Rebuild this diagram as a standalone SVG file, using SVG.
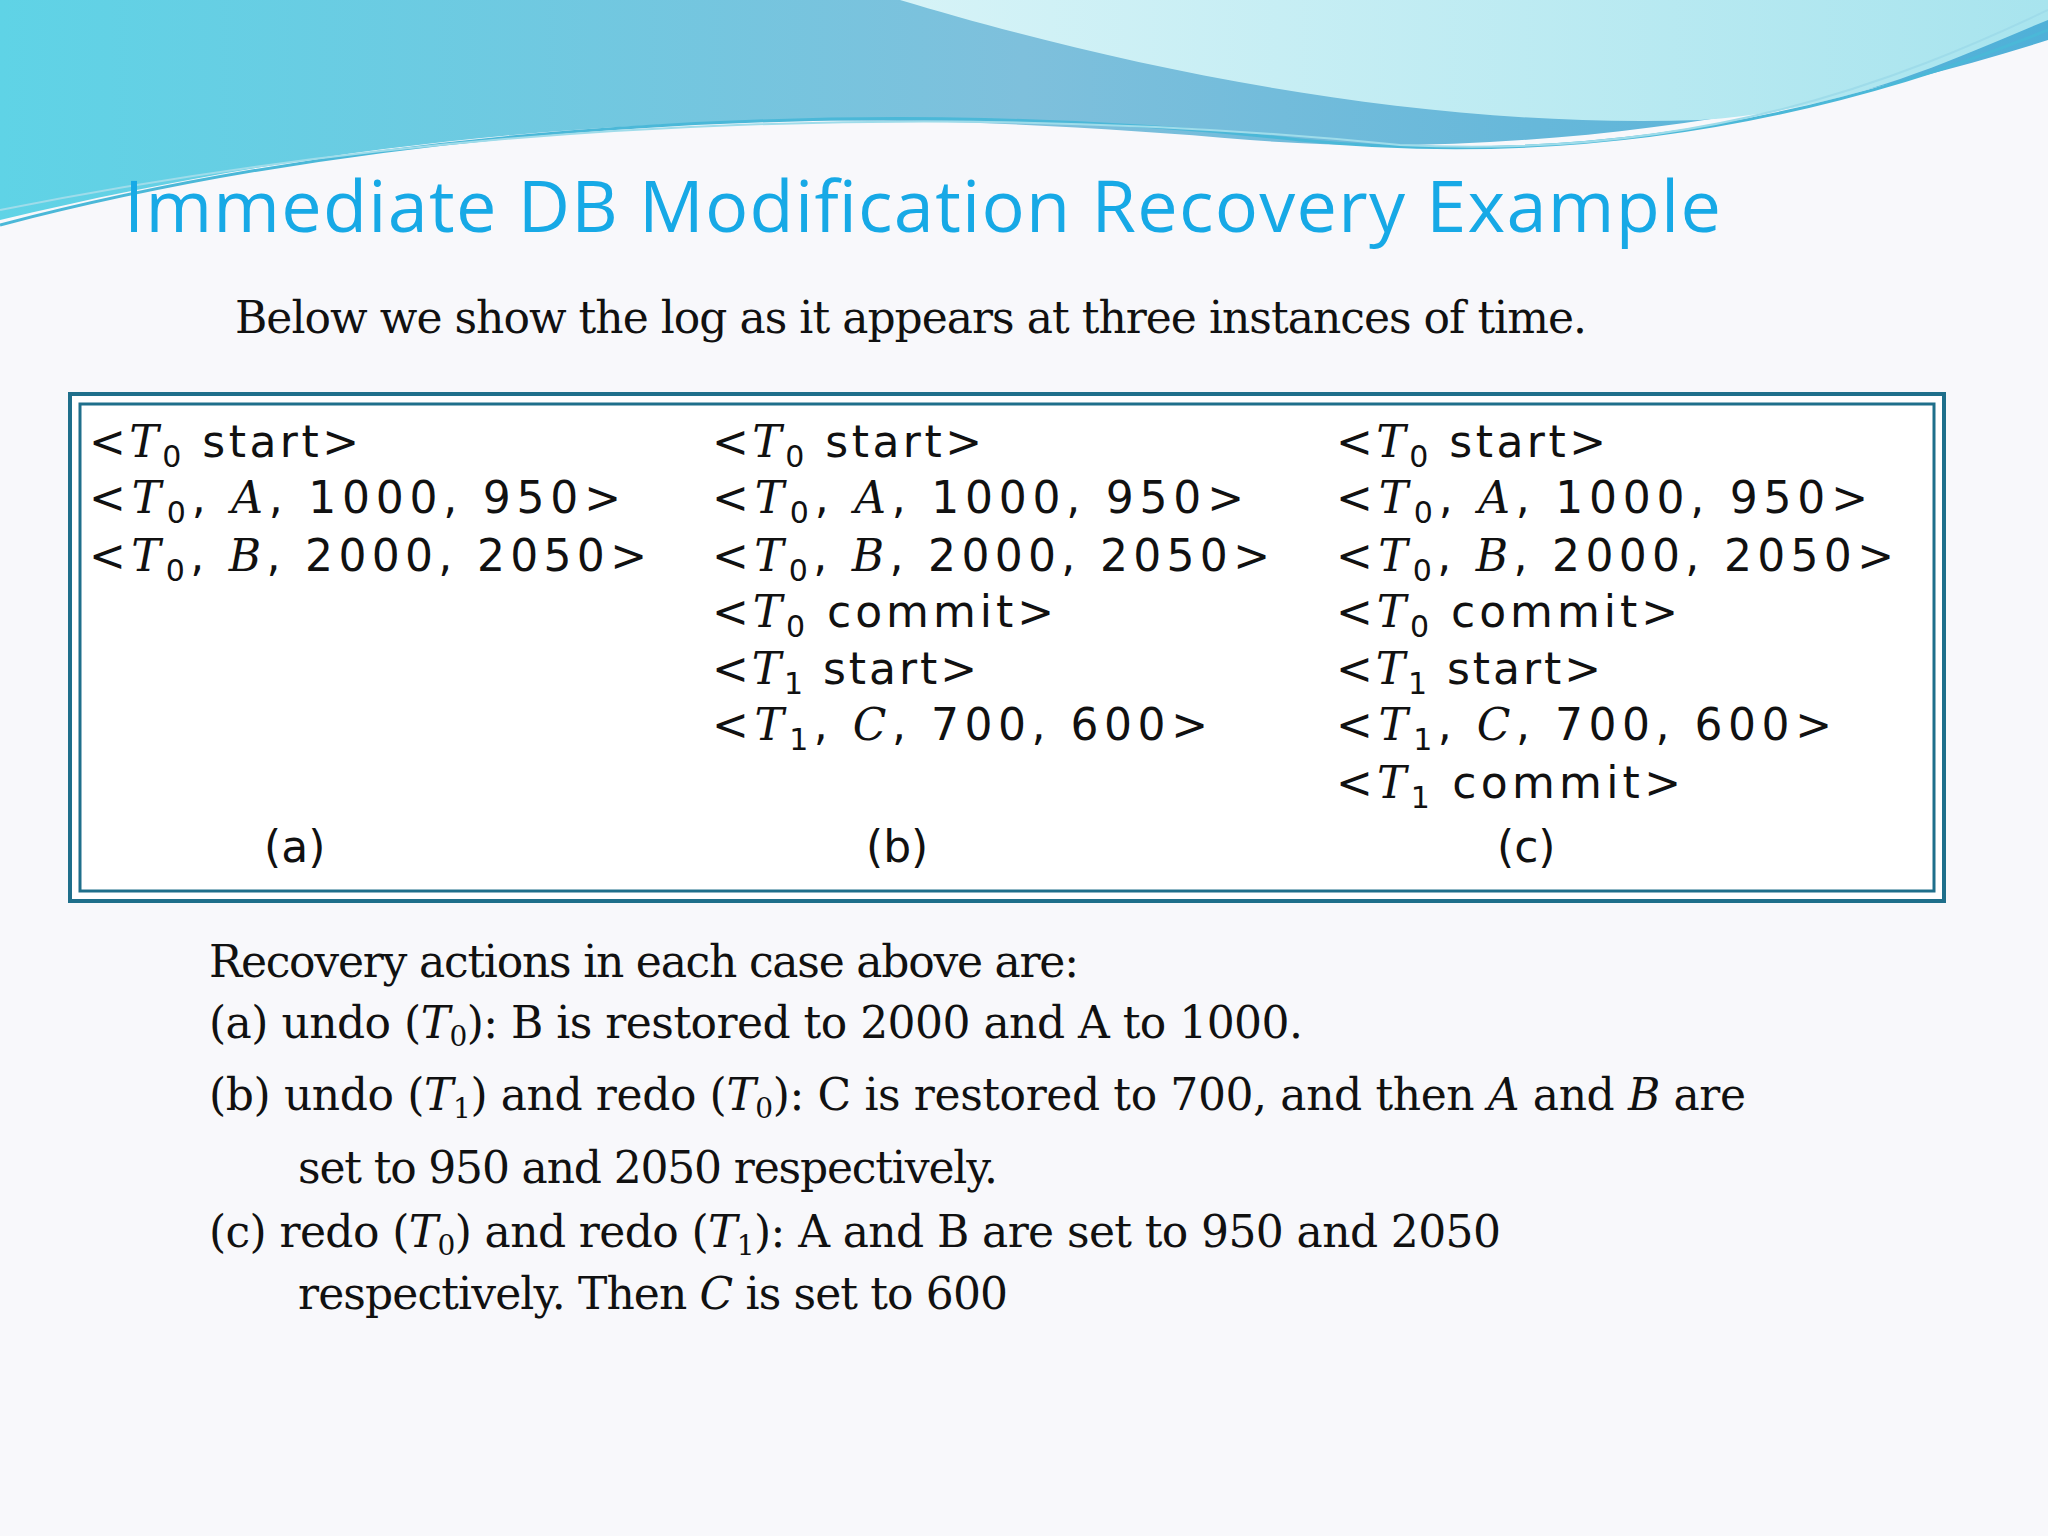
<svg xmlns="http://www.w3.org/2000/svg" width="2048" height="1536" viewBox="0 0 2048 1536">
<defs>
<linearGradient id="sky" x1="0" y1="0" x2="1" y2="0">
<stop offset="0" stop-color="#5fd3e6"/><stop offset="0.5" stop-color="#7ec0dc"/><stop offset="1" stop-color="#4fb0d8"/>
</linearGradient>
<linearGradient id="sky2" x1="0" y1="0" x2="1" y2="0">
<stop offset="0" stop-color="#d6f3f7"/><stop offset="1" stop-color="#a8e4ee"/>
</linearGradient>
</defs>
<style>
.log{font-family:"DejaVu Sans","Liberation Sans",sans-serif;font-size:44px;fill:#111}
.t{font-family:"DejaVu Serif","Liberation Serif",serif;font-style:italic}
.body{font-family:"DejaVu Serif","Liberation Serif",serif;font-size:44px;fill:#111}
</style>
<rect width="2048" height="1536" fill="#f8f8fb"/>
<g id="background-waves">
<path d="M0,0 H2048 V40 C1800,120 1500,160 1250,140 C900,110 500,100 0,220 Z" fill="url(#sky)"/>
<path d="M900,0 C1100,60 1400,130 1700,120 C1850,110 1950,60 2048,20 V0 Z" fill="url(#sky2)"/>
<path d="M0,225 C400,120 900,95 1300,140 C1600,170 1850,110 2048,30" fill="none" stroke="#4bb8d8" stroke-width="3"/>
<path d="M0,210 C500,110 1000,105 1400,145 C1700,160 1900,80 2048,10" fill="none" stroke="#9fdcea" stroke-width="2"/>
</g>
<g id="title">
<text x="124" y="232" textLength="1597" lengthAdjust="spacing" font-family="Open Sans,'Liberation Sans',sans-serif" font-size="72" fill="#17a9e6">Immediate DB Modification Recovery Example</text>
<text x="235" y="333" class="body" textLength="1352" lengthAdjust="spacing">Below we show the log as it appears at three instances of time.</text>
</g>
<g id="log-box">
<rect x="70" y="394" width="1874" height="507" fill="#fff" stroke="#1f6f8b" stroke-width="4"/>
<rect x="80" y="404" width="1854" height="487" fill="none" stroke="#1f6f8b" stroke-width="3"/>
</g>
<g id="log-a" class="log">
<text x="89" y="457" textLength="270">&lt;<tspan class="t">T</tspan><tspan font-size="30" dy="10">0</tspan><tspan dy="-10"> start&gt;</tspan></text>
<text x="89" y="513" textLength="532">&lt;<tspan class="t">T</tspan><tspan font-size="30" dy="10">0</tspan><tspan dy="-10">, </tspan><tspan class="t">A</tspan>, 1000, 950&gt;</text>
<text x="89" y="571" textLength="558">&lt;<tspan class="t">T</tspan><tspan font-size="30" dy="10">0</tspan><tspan dy="-10">, </tspan><tspan class="t">B</tspan>, 2000, 2050&gt;</text>
<text x="264" y="862">(a)</text>
</g>
<g id="log-b" class="log">
<text x="712" y="457" textLength="270">&lt;<tspan class="t">T</tspan><tspan font-size="30" dy="10">0</tspan><tspan dy="-10"> start&gt;</tspan></text>
<text x="712" y="513" textLength="532">&lt;<tspan class="t">T</tspan><tspan font-size="30" dy="10">0</tspan><tspan dy="-10">, </tspan><tspan class="t">A</tspan>, 1000, 950&gt;</text>
<text x="712" y="571" textLength="558">&lt;<tspan class="t">T</tspan><tspan font-size="30" dy="10">0</tspan><tspan dy="-10">, </tspan><tspan class="t">B</tspan>, 2000, 2050&gt;</text>
<text x="712" y="627" textLength="342">&lt;<tspan class="t">T</tspan><tspan font-size="30" dy="10">0</tspan><tspan dy="-10"> commit&gt;</tspan></text>
<text x="712" y="684" textLength="265">&lt;<tspan class="t">T</tspan><tspan font-size="30" dy="10">1</tspan><tspan dy="-10"> start&gt;</tspan></text>
<text x="712" y="740" textLength="496">&lt;<tspan class="t">T</tspan><tspan font-size="30" dy="10">1</tspan><tspan dy="-10">, </tspan><tspan class="t">C</tspan>, 700, 600&gt;</text>
<text x="866" y="862">(b)</text>
</g>
<g id="log-c" class="log">
<text x="1336" y="457" textLength="270">&lt;<tspan class="t">T</tspan><tspan font-size="30" dy="10">0</tspan><tspan dy="-10"> start&gt;</tspan></text>
<text x="1336" y="513" textLength="532">&lt;<tspan class="t">T</tspan><tspan font-size="30" dy="10">0</tspan><tspan dy="-10">, </tspan><tspan class="t">A</tspan>, 1000, 950&gt;</text>
<text x="1336" y="571" textLength="558">&lt;<tspan class="t">T</tspan><tspan font-size="30" dy="10">0</tspan><tspan dy="-10">, </tspan><tspan class="t">B</tspan>, 2000, 2050&gt;</text>
<text x="1336" y="627" textLength="342">&lt;<tspan class="t">T</tspan><tspan font-size="30" dy="10">0</tspan><tspan dy="-10"> commit&gt;</tspan></text>
<text x="1336" y="684" textLength="265">&lt;<tspan class="t">T</tspan><tspan font-size="30" dy="10">1</tspan><tspan dy="-10"> start&gt;</tspan></text>
<text x="1336" y="740" textLength="496">&lt;<tspan class="t">T</tspan><tspan font-size="30" dy="10">1</tspan><tspan dy="-10">, </tspan><tspan class="t">C</tspan>, 700, 600&gt;</text>
<text x="1336" y="798" textLength="345">&lt;<tspan class="t">T</tspan><tspan font-size="30" dy="10">1</tspan><tspan dy="-10"> commit&gt;</tspan></text>
<text x="1497" y="862">(c)</text>
</g>
<g id="recovery-text" class="body">
<text x="209" y="977" textLength="870">Recovery actions in each case above are:</text>
<text x="209" y="1038" textLength="1094">(a)  undo (<tspan font-style="italic">T</tspan><tspan font-size="28" dy="8">0</tspan><tspan dy="-8">): B is restored to 2000 and A to 1000.</tspan></text>
<text x="209" y="1110" textLength="1537">(b)  undo (<tspan font-style="italic">T</tspan><tspan font-size="28" dy="8">1</tspan><tspan dy="-8">) and redo (</tspan><tspan font-style="italic">T</tspan><tspan font-size="28" dy="8">0</tspan><tspan dy="-8">): C is restored to 700, and then </tspan><tspan font-style="italic">A</tspan> and <tspan font-style="italic">B</tspan> are</text>
<text x="298" y="1183" textLength="700">set to 950 and 2050 respectively.</text>
<text x="209" y="1247" textLength="1292">(c)  redo (<tspan font-style="italic">T</tspan><tspan font-size="28" dy="8">0</tspan><tspan dy="-8">) and redo (</tspan><tspan font-style="italic">T</tspan><tspan font-size="28" dy="8">1</tspan><tspan dy="-8">): A and B are set to 950 and 2050</tspan></text>
<text x="298" y="1309" textLength="710">respectively. Then <tspan font-style="italic">C</tspan> is set to 600</text>
</g>
</svg>
